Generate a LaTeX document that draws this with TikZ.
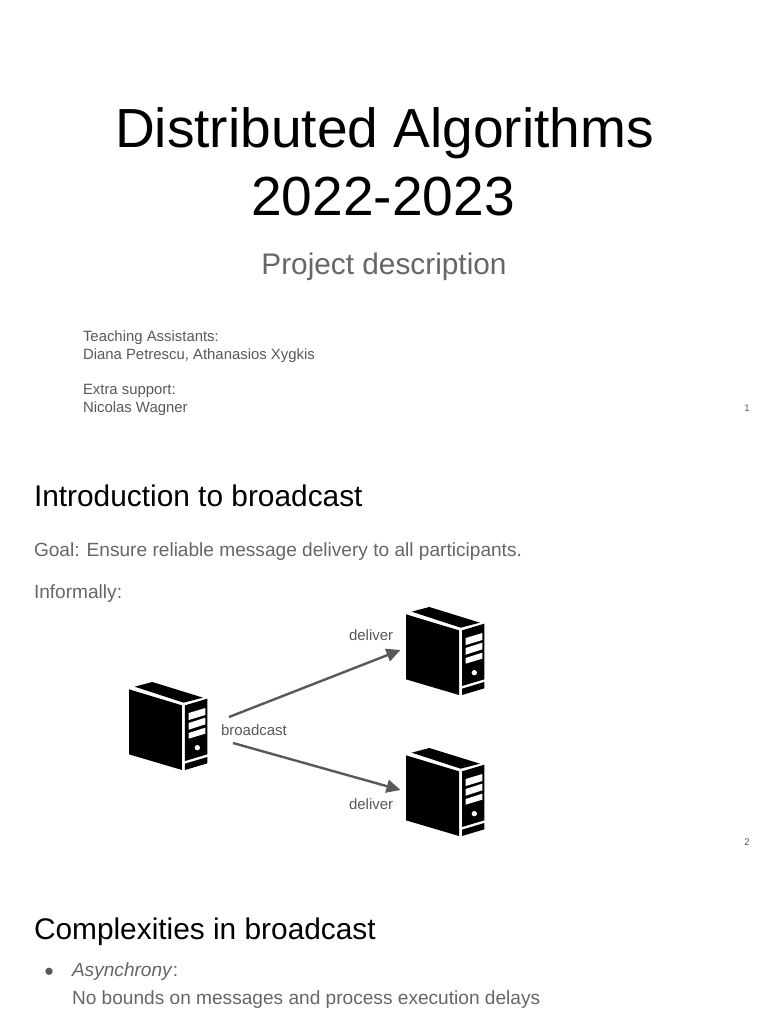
\documentclass[tikz,border=0pt]{standalone}
\usepackage{fontspec}
\setmainfont{Liberation Sans}
\usetikzlibrary{arrows.meta}
\definecolor{subgrey}{HTML}{666666}
\definecolor{labgrey}{HTML}{595959}
\definecolor{arrowgrey}{HTML}{595959}
\newcommand{\fs}[1]{\fontsize{#1}{#1}\selectfont}
\tikzset{
  txt/.style={anchor=base west,inner sep=0pt,outer sep=0pt},
  ctr/.style={anchor=base,inner sep=0pt,outer sep=0pt},
  title/.style={ctr,text=black,font=\fs{55.1}},
  subtitle/.style={ctr,text=subgrey,font=\fs{29.8}},
  heading/.style={txt,text=black,font=\fs{29.85}},
  bodytext/.style={txt,text=subgrey,font=\fs{19.1}},
  bulletmark/.style={txt,text=labgrey,font=\fs{16.7}},
  small/.style={txt,text=labgrey,font=\fs{14.9}},
  tiny/.style={ctr,text=labgrey,font=\fs{9.6}},
  label/.style={txt,text=labgrey,font=\fs{15}},
  serverbox/.style={minimum width=79pt,minimum height=89pt,inner sep=0pt,outer xsep=5.5pt,outer ysep=0pt},
  link/.style={draw=arrowgrey,line width=2.4pt,-{Triangle[length=14pt,width=13pt]}},
  server/.pic={
    \begin{scope}[x=0.3333pt,y=-0.3333pt,shift={(-58,-248)}]
      \fill (75,262) -- (128,248) -- (280,295) -- (222,310) -- cycle;
      \fill (58,270) -- (217,318) -- (217,512) -- (58,465) -- cycle;
      \fill (226,318) -- (293,298) -- (293,465) -- (226,485) -- cycle;
      \fill (226,493) -- (293,473) -- (293,492) -- (226,512) -- cycle;
      \fill[white] (237,341) -- (287,326) -- (287,347) -- (237,362) -- cycle;
      \fill[white] (237,371) -- (287,355) -- (287,375) -- (237,391) -- cycle;
      \fill[white] (237,401) -- (287,385) -- (287,403) -- (237,418) -- cycle;
      \fill[white] (263,445) circle (8);
    \end{scope}
  }
}
\begin{document}
\begin{tikzpicture}[x=1pt,y=-1pt]
\useasboundingbox[fill=white] (0,0) rectangle (768,1024);
\node[title] (t1) at (384.5,148) {Distributed Algorithms};
\node[title] (t2) at (383,215) {2022-2023};
\node[subtitle] (t3) at (384,274) {Project description};
\node[small] (ta) at (83,341) {Teaching Assistants:};
\node[small] (tb) at (83,359) {Diana Petrescu, Athanasios Xygkis};
\node[small] (tc) at (83,394) {Extra support:};
\node[small] (td) at (83,412) {Nicolas Wagner};
\node[tiny] (p1) at (747,411) {1};
\node[heading] (h1) at (34,506) {Introduction to broadcast};
\node[bodytext] (g1) at (34,556) {Goal: Ensure reliable message delivery to all participants.};
\node[bodytext] (g2) at (34,598) {Informally:};
\node[serverbox] (s1) at (168.5,726.5) {};
\node[serverbox] (s2) at (445.5,650) {};
\node[serverbox] (s3) at (445.5,790) {};
\pic at (129,682) {server};
\pic at (406,607) {server};
\pic at (406,748) {server};
\node[label] (l1) at (349,640) {deliver};
\node[label] (l2) at (221,735) {broadcast};
\node[label] (l3) at (349,809) {deliver};
\coordinate (b1) at (229,717);
\coordinate (b2) at (233,743);
\draw[link] (b1) -- (s2.west);
\draw[link] (b2) -- (s3.west);
\node[tiny] (p2) at (747,845) {2};
\node[heading] (h2) at (34,939) {Complexities in broadcast};
\node[bulletmark] (bu) at (44,976) {●};
\node[bodytext] (a1) at (72,976) {\textit{Asynchrony}:};
\node[bodytext] (a2) at (72,1004) {No bounds on messages and process execution delays};
\end{tikzpicture}
\end{document}
